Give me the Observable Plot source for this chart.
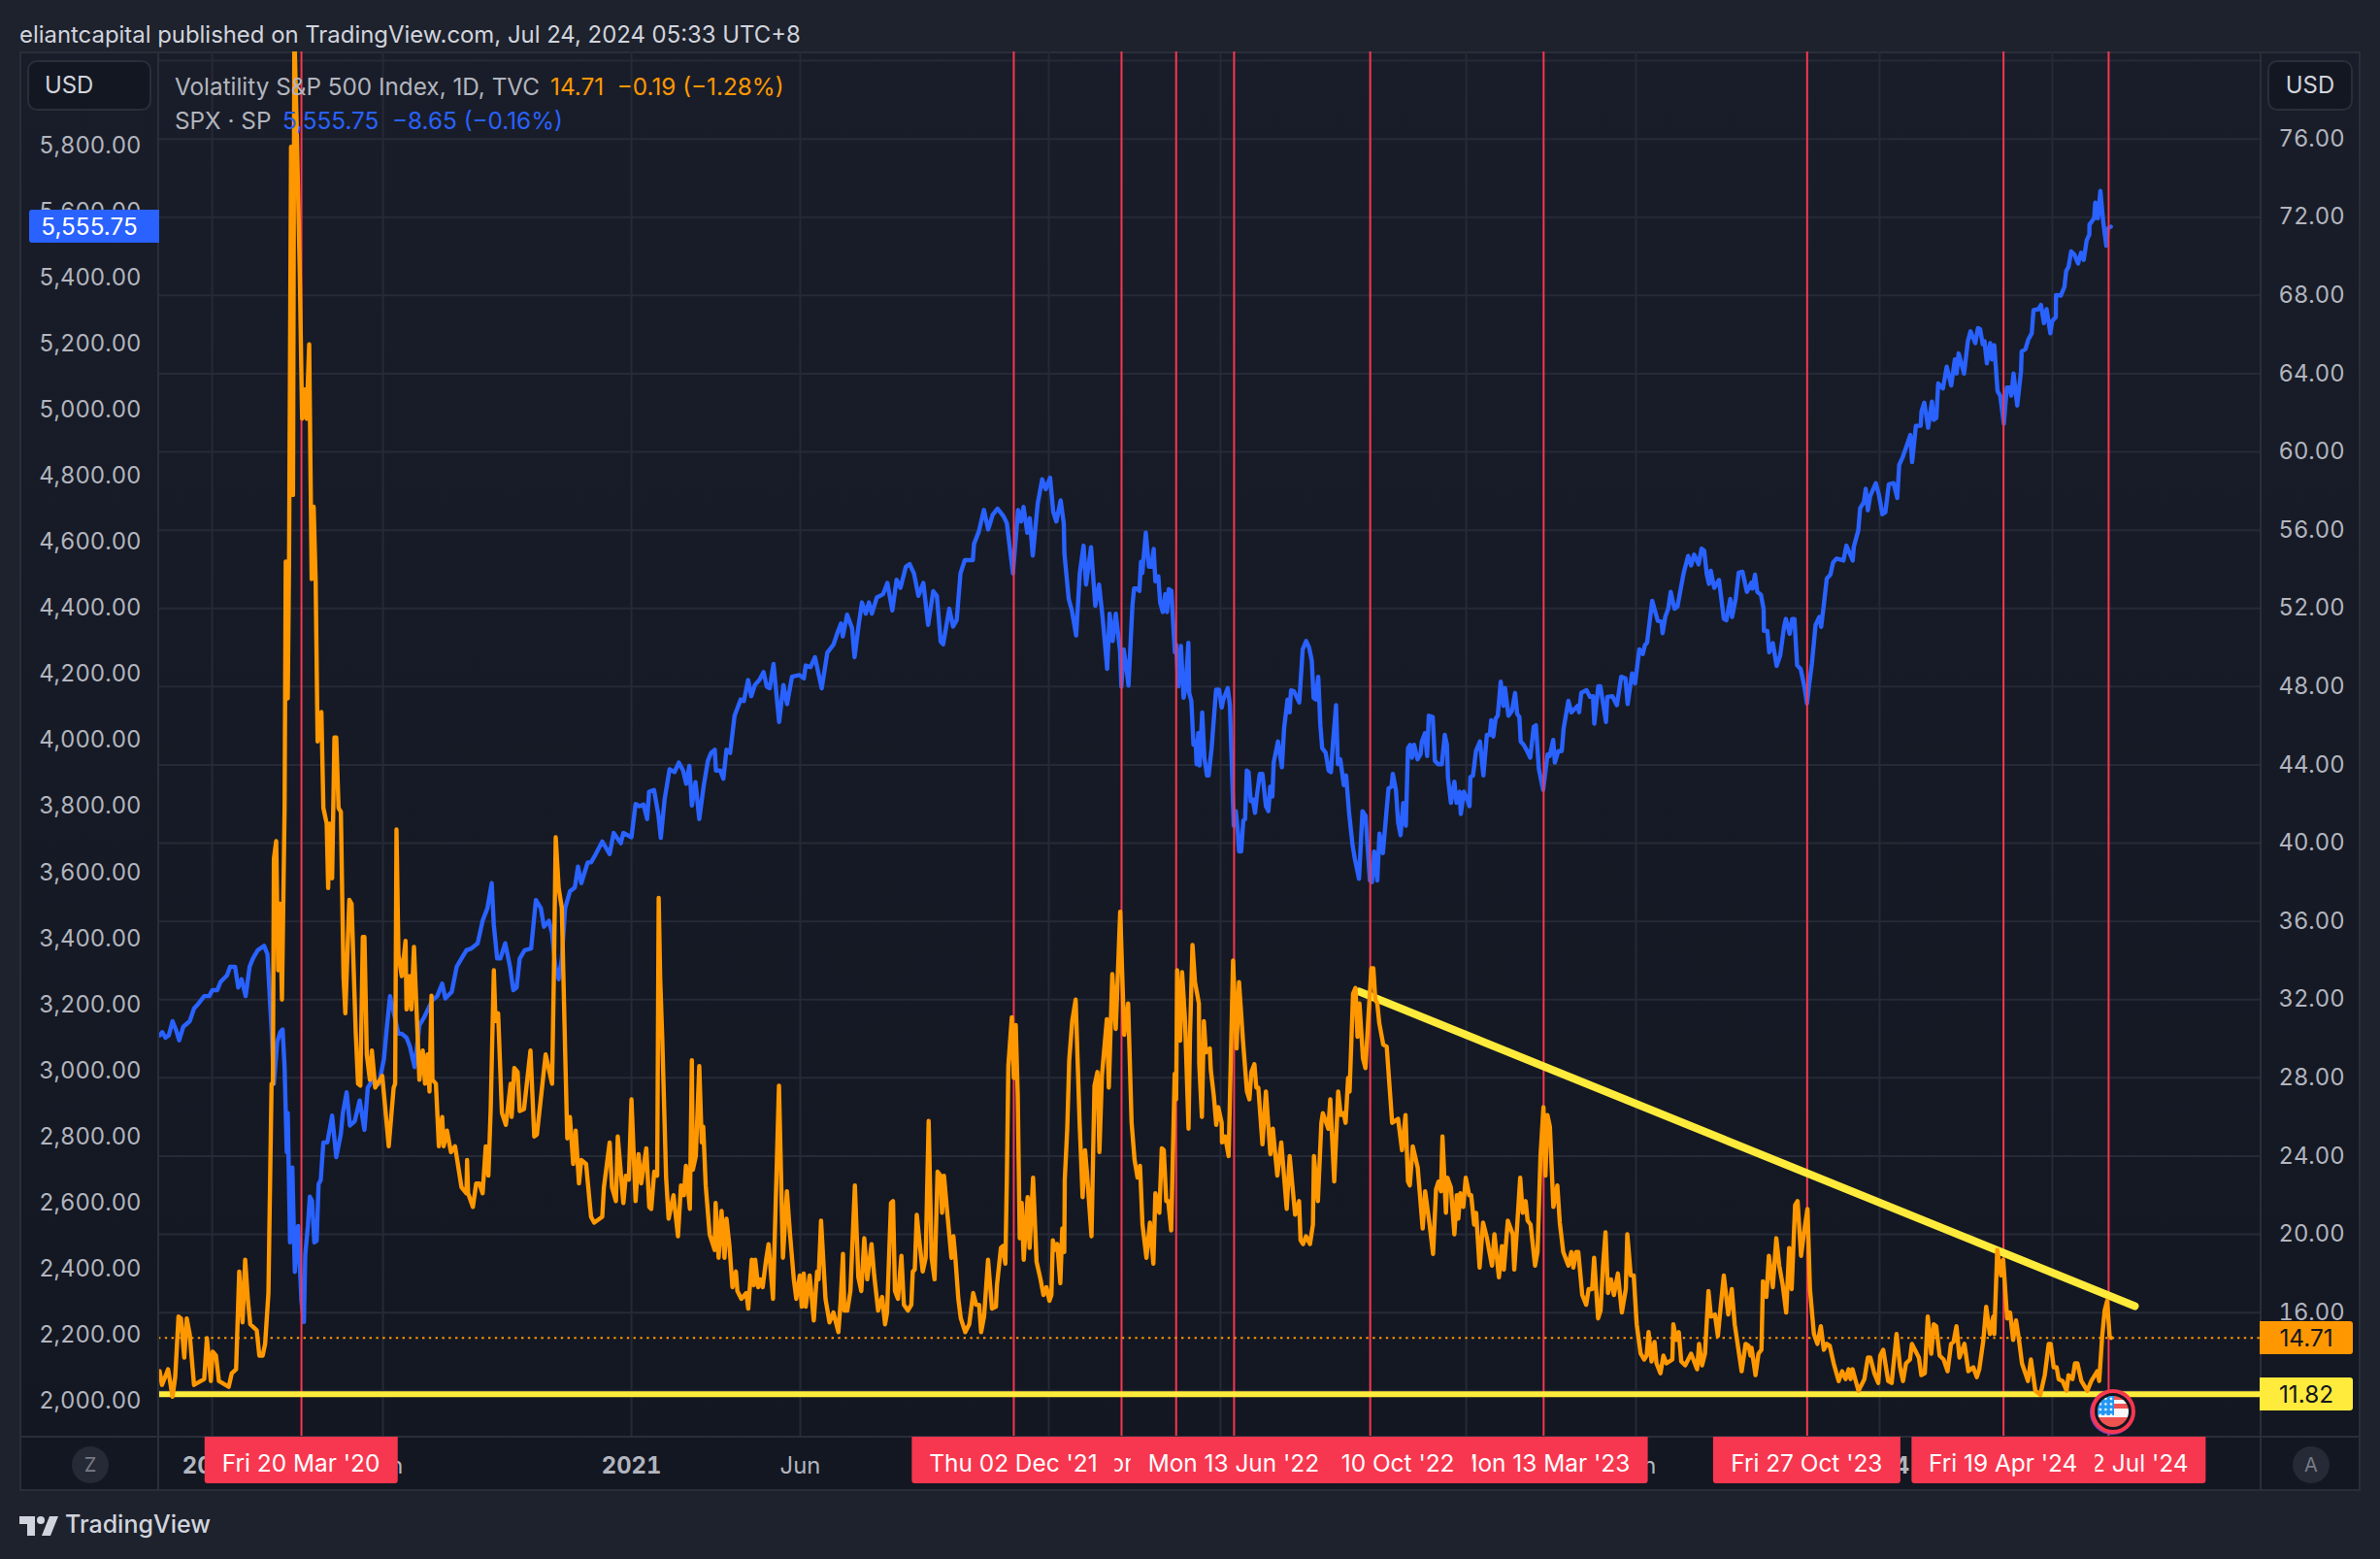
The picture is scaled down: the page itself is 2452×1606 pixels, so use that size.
<!DOCTYPE html>
<html>
<head>
<meta charset="utf-8">
<script src="https://cdn.jsdelivr.net/npm/d3@7"></script>
<script src="https://cdn.jsdelivr.net/npm/@observablehq/plot@0.6"></script>
<style>
html,body{margin:0;padding:0;background:#1e222d;width:2452px;height:1606px;overflow:hidden;font-family:Inter,"Liberation Sans",sans-serif;}
#stage{position:absolute;left:0;top:0;width:2452px;height:1606px;}
#stage svg{position:absolute;left:0;top:0;}
.o{position:absolute;white-space:nowrap;line-height:1;}
</style>
</head>
<body>
<div id="stage"></div>
<script>
// x is the trading-session count from the left edge of the chart.
const vix2020a=[[0.6,13],[2,12.3],[5.7,13.1],[8.4,11.7],[10,12.7],[12,15.8],[13.5,15.7],[15.5,13.7],[17,15.7],[18.8,14.9],[21.4,12.3],[27.6,12.6],[29.2,14.7],[31.6,12.5],[32.7,14],[34.7,13.8],[36.5,12.5],[42.4,12.2],[44.3,12.9],[46.9,13.1],[48.8,18.1],[50.8,15.5],[52.4,18.7],[54.1,16.6],[55.5,15.4],[59.4,15.1],[61,13.8],[63,13.8],[64.5,14.4],[66.5,17],[68.4,27.7],[69.2,27.7],[69.8,39.2],[71.2,40.1],[72.4,33.5],[73.5,36.9],[74.7,32],[76.3,41.8],[77,54.4],[78.2,47.4],[79,54.4],[80.2,75.6],[81.4,57.8],[82.2,81.5],[83.7,76.4],[85.5,69.1],[86.9,61.7],[88.4,63.2],[89.6,61.7],[91.2,65.5],[92.7,53.5],[93.9,57.2],[95.1,53.5],[96.3,45.2],[98.6,46.7],[99.8,41.8],[101.8,41],[102.7,37.7],[103.7,41],[105.1,38.2],[106.5,45.4],[107.6,45.4],[109,41.8],[110.4,41.6],[112,33.2],[113.1,31.3],[115.5,37.1],[116.9,36.9],[119.4,30.3],[120.8,27.7],[122.2,27.6],[123.7,35.2],[124.7,35.2],[126.1,29.2],[128,27.9],[129.2,29.4],[131.2,27.5],[135.5,28.1],[139.4,24.5],[142.4,27.5],[143.3,27.7],[144.1,40.7],[145.3,34.3],[147.3,33.2],[149.6,35],[150.2,31.5],[152.2,33.2],[153.1,31.5],[154.7,34.7],[158,27.9],[160,29.4],[161.4,27.7],[162.9,29.2],[164.1,27.3],[165.3,32.2],[165.9,27.9],[168,27.7],[169.8,24.5],[171.8,26],[172.7,24.5],[174.7,25.3],[177.1,24.2],[179.6,24.5],[183.5,22.4],[186.5,22.1],[186.9,23.8],[187.5,22.1],[190.4,21.4],[192.4,22.6],[194.3,22.6],[196.3,22.1],[198.2,24.5],[199.8,23],[201.2,26.4],[203.1,33.5],[204.1,30.9],[205.7,31.3],[208,26.2],[210.4,25.6],[213.3,27.7],[213.9,26],[215.5,28.5],[217.5,28.3],[218.8,26.3],[221.4,26.4],[225.3,29.4],[227.6,25],[229.2,25.1],[234.5,29.2],[238.4,27.7],[239.4,32.8],[240.6,40.3],[242.4,37.7],[244.3,36.7],[246.3,29.4],[247.6,24.9],[249.2,26],[251.2,23.6],[252.7,25.3],[254.7,22.6],[256.1,23.8],[259,23.6],[262,20.9],[263.9,20.6],[268.8,20.9],[269.8,22.4],[273.3,24.7],[274.7,22.4],[277.1,21.7],[278.2,25],[281.6,21.6],[283.1,23],[284.9,22.8],[286.5,26.9],[289,21.7],[290.8,24.1],[292.4,22.6]];
const vix2021=[[295.5,24.4],[297.3,21.4],[298.5,21.3],[300.3,23.2],[302.1,23],[303,37.2],[303.9,33.1],[305.1,30.2],[307.5,22.9],[309,20.8],[312,22],[314.7,19.9],[316.5,22.5],[318.3,22],[319.5,23.5],[321.9,21.3],[323.1,28.9],[323.7,23.3],[325.5,24],[327.6,28.6],[329.1,24.7],[330,25.5],[331.5,22.5],[333.9,20],[336.9,19.2],[337.5,21.6],[339.3,18.8],[341.1,21.2],[342.9,18.8],[344.1,20.8],[345.9,19.4],[347.7,17.3],[349.8,18.1],[350.7,17.1],[353.1,16.7],[356.1,17],[357.3,16.2],[359.4,18.7],[360.6,17.4],[361.5,18.7],[363.3,17.3],[364.5,17.7],[366,17.3],[368.1,18.7],[369.6,19.5],[372.3,16.7],[375.9,27.6],[378.3,18.8],[380.7,22.2],[382.5,20.1],[384.9,17.7],[386.4,16.7],[388.5,17.9],[389.7,16.3],[390.9,18],[392.1,16.3],[394.5,17.9],[397,15.6],[399,18.1],[399.9,17.7],[401.4,20.7],[404.1,16.7],[406.5,15.5],[408.9,16],[411.9,15],[413.2,16.5],[414.7,19],[415.5,16.1],[417.3,16.1],[419.2,17.1],[421.9,22.5],[424,17.8],[425.8,17.1],[427.6,19.8],[429.4,17.7],[432,19.5],[433.6,17.9],[436,16.1],[438.4,16.8],[440.2,15.4],[441.4,16],[443.8,21.6],[445,21.7],[446.2,17.1],[448,16.7],[450.1,18.9],[451.6,16.4],[454,16.1],[456.1,16.4],[457,18.1],[458.2,18.2],[459.4,21],[461.2,19.5],[463,18.1],[464.8,18.8],[466.6,25.8],[468.4,18.8],[470.2,17.7],[472,23.2],[473.8,23],[474.7,21.1],[475.9,23],[478,21],[480.4,18.8],[481.6,19.9],[482.8,18.8],[484.6,16.7],[486.1,15.7],[488.8,15],[491.2,15.4],[493.6,17],[495.4,16.4],[497.2,16.4],[498.4,15],[500.2,15.8],[502.6,18.7],[505,16.2],[507.4,16.3],[508,17.4],[510.4,19.3],[511.6,19.4],[513.1,18.5],[514,22.9],[514.9,28.6],[517,31.1],[518.2,28],[519.4,30.7],[520.6,27.1],[521.8,19.8],[523,21.6],[524.2,18.7],[526.6,21.9],[527.8,19.3],[529.9,22.9],[532,18.6],[534.4,17.7],[536.2,16.9],[538,17.3]];
const vix2022=[[539.8,16.6],[541,16.9],[541.9,19.7],[543.1,19.2],[544.6,19.5],[546.4,17.5],[547.6,20.3],[548.8,19.1],[549.1,22.8],[550.6,25.4],[551.8,28.9],[553.6,30.9],[555.7,32],[558.1,25.7],[559.9,21.9],[561.4,24.3],[562.6,23.1],[565.3,19.9],[567.1,27.6],[568.9,28.3],[570.1,24.2],[571.6,28.1],[574.6,31],[575.8,27.5],[577.9,33.3],[580,30.5],[582.7,36.5],[585.1,30.2],[587.5,31.8],[589.6,25.7],[591.4,23.8],[593.2,22.9],[594.7,23.5],[596.2,20.5],[598.6,18.8],[600.7,20.6],[602.8,18.5],[604,22.1],[606.4,21.1],[607.9,24.4],[609.1,24.3],[610.6,21.7],[611.8,21.7],[613.6,20.2],[615.7,28.2],[616.6,26.9],[617.2,33.5],[619,29.9],[620.2,33.4],[622,30.9],[624.1,25.4],[625,30.2],[626.5,34.8],[628,32.9],[630.4,31.8],[630.6,28.7],[632.2,26],[633.4,30.9],[634.6,29.3],[637,29.5],[637.6,28.4],[639.4,27.1],[640.9,25.6],[642.1,26.5],[644.2,25.7],[644.4,24.7],[646.3,25],[648.4,24],[651.1,34],[653.2,29.5],[654.7,32.9],[657.1,29.9],[659.5,27.3],[661,26.9],[662.2,28.3],[664,28.7],[665.2,27.5],[666.4,27.5],[668.9,24.6],[671,27.3],[673.7,24.1],[675.2,25.4],[677.9,23],[680.3,24.7],[683.6,21.3],[685.4,24],[688.7,21],[691.1,21.7],[692,19.7],[693.5,19.5],[695.3,19.9],[697.7,19.5],[699.5,20.5],[700.1,24],[702.5,21.7],[704.6,25.7],[705.5,26.2],[708.8,25.4],[710,26.9],[712.4,22.7],[714.8,27.3],[716.3,26.1],[718.1,26.2],[719.3,25.7],[720.8,28],[721.7,27.3],[723.8,32.3],[725.3,32.6],[726.5,30.1],[727.7,31.8],[729.8,29],[731.3,28.5],[733.1,31.1],[734.9,33.6],[736.1,33.6],[737.3,32],[738.5,31.8],[739.7,30.8],[742.1,29.7],[744.2,29.6],[747.5,25.7],[751.1,25.9],[753.5,24.3],[755.6,26.1],[757.1,22.7],[758.2,22.5],[760,24.5],[763,23.4],[766,20.3],[767.5,22.2],[770.2,20.5],[772.3,19],[774.1,22.3],[775.6,22.7],[777.1,22.2],[778,25],[780.1,21.1],[781,22.9],[783.1,22.4],[785.2,20],[786.7,22],[787.6,20.8],[788.8,22.1],[790.6,21.4]];
const vix2023=[[792.1,22.9],[794.2,22],[795.4,22],[797.2,20.5],[798.4,21.1],[800.5,18.3],[802.6,20.6],[805,19.8],[806.2,19.2],[808,18.4],[809.5,20],[812.2,17.8],[814,19.4],[815.2,18.2],[817.6,20.7],[820.6,20],[821.5,18.2],[823,20.1],[825.1,22.9],[826.6,21.1],[828.4,21.7],[829.6,20.7],[831.4,20.5],[834.1,18.4],[835.6,19.1],[837.4,24],[839.2,26.5],[840.4,23],[841.6,26.1],[843.1,25.5],[845.2,21.4],[847.6,22.5],[849.1,20.6],[851.2,19.1],[854.3,18.4],[856.1,19.1],[857.3,18.3],[859,19.1],[860.3,19.1],[862.7,16.9],[865.1,16.4],[866.6,17.2],[868.7,17.2],[869.9,18.8],[872.3,15.7],[873.8,16.1],[875.3,18.4],[876.8,20.1],[878.3,17],[880.1,17.7],[881.9,16.9],[884.3,18],[886.7,16],[889.1,17.2],[890,20],[892.1,17.9],[893.9,17.9],[895.7,15.4],[898.1,13.9],[900.2,13.6],[901.7,13.8],[902.9,15],[904.7,13.5],[906.5,14.5],[907.7,13.4],[910.1,12.9],[911.9,13.8],[913.7,13.4],[917.3,13.6],[917.9,15.4],[919.7,14.6],[921.2,15],[922.7,13.5],[925.1,13.3],[926.3,13.5],[928.7,13.9],[932.3,13.1],[933.5,14.4],[935.3,13.3],[937.1,13.9],[939.2,17.1],[940.7,15.8],[943.1,15.9],[944.9,14.8],[946.7,16.4],[948.5,17.9],[951.2,15.9],[953.3,17.2],[955.1,15.4],[959.3,13],[961.7,14.4],[963.5,14.3],[964.7,13.8],[965.3,14.2],[967.7,12.8],[969.5,13.9],[971.3,14.1],[972.2,17.6],[974.3,16.8],[975.8,18.9],[978.2,17.3],[980.3,19.8],[982.1,18.4],[984.2,17.4],[986.3,16],[988.1,19.3],[989.6,17.2],[991.7,21.5],[993.2,21.7],[995.3,18.9],[997.1,20.1],[999.2,21.3],[1000.7,17.2],[1003.1,14.9],[1005.2,14.4],[1007.3,15.3],[1009.1,14.1],[1010.9,14.4],[1012.7,14.3],[1015.1,13.4],[1018.1,12.5],[1020.2,13],[1022.3,12.6],[1024.1,13.1],[1025.3,12.6],[1026.5,13.1],[1030.1,12],[1033.7,12.6],[1035.8,13.7],[1037.3,13.7],[1039.7,12.9]];
const vix2024=[[1042.1,12.4],[1043.3,13.8],[1045.1,14.1],[1048.1,12.5],[1050.2,12.4],[1053.2,14.9],[1055.3,13.2],[1057.1,12.5],[1058.9,13.4],[1061.3,13.6],[1062.5,14.4],[1066.7,13.7],[1068.2,12.8],[1070.3,12.9],[1072.1,15.8],[1074.2,13.9],[1075.7,15.4],[1077.2,15.3],[1079.3,13.8],[1081.7,13.6],[1084.1,13],[1086.2,14.4],[1087.7,14.5],[1089.5,15.3],[1091.3,13.7],[1094.3,14.4],[1096.7,13],[1099.7,13.2],[1101.8,12.7],[1103.3,13.1],[1105.8,14.6],[1107.5,16.3],[1109.7,14.9],[1111.8,15.8],[1112.4,14.9],[1114.2,19.2],[1116.5,17.9],[1117.8,18.7],[1120.2,15.7],[1122,16],[1123.8,14.6],[1125.6,15.6],[1127.4,14.6],[1129.2,13.4],[1132.8,12.5],[1134.6,13.6],[1137.3,12],[1140.3,11.8],[1143,12.8],[1145.4,14.4],[1146.6,14.4],[1148.4,13.2],[1150.2,13.2],[1151.4,12.6],[1153.8,12.5],[1156.2,12],[1157.4,12.8],[1159.8,12.6],[1161.3,13.4],[1162.8,13.4],[1165.2,12.5],[1168.8,12],[1171.2,12.5],[1174.8,13],[1176,12.5],[1177.8,14.8],[1179.3,16.1],[1180.8,16.6],[1182.3,14.8],[1183.2,14.71]];

const spx2020=[[0.6,3107],[2.2,3117],[4.1,3100],[6.1,3107],[8.4,3150],[10.4,3125],[12.4,3092],[14.9,3133],[18.8,3150],[21.4,3188],[23.7,3201],[27.6,3226],[30.6,3226],[32.5,3244],[35.5,3244],[37.5,3269],[41.4,3289],[43.3,3315],[46.3,3315],[48.2,3252],[50.2,3277],[52.7,3226],[55.1,3315],[57.1,3340],[60,3365],[63.9,3378],[65.9,3353],[68.4,3125],[69.8,2960],[71.8,3087],[73.7,3117],[75.1,3125],[76.3,3011],[77.6,2753],[78.2,2872],[79.6,2480],[81,2707],[82.5,2391],[84.5,2530],[86.5,2302],[88,2239],[88.8,2442],[90.4,2530],[91.6,2619],[92.9,2606],[94.3,2480],[95.7,2485],[96.9,2657],[98.2,2669],[99.8,2783],[102.2,2783],[105.1,2864],[107.6,2738],[110.4,2809],[111.6,2872],[113.9,2935],[115.9,2834],[118.8,2847],[121.8,2910],[124.7,2821],[126.7,2948],[129.6,2973],[133.5,2960],[136.5,3036],[138.4,3138],[140.2,3226],[145.3,3112],[147.3,3112],[150.2,3100],[152.2,3074],[155.1,3011],[158,3138],[161,3163],[165.9,3214],[168.8,3226],[171.8,3264],[173.7,3219],[177.6,3239],[180.6,3315],[183.5,3340],[186.5,3365],[189.4,3370],[193.3,3386],[196.3,3454],[199.2,3492],[201.8,3568],[203.1,3441],[205.1,3340],[207.1,3340],[210,3386],[212.9,3315],[214.9,3244],[216.9,3252],[218.8,3340],[221.8,3365],[225.7,3370],[228.6,3517],[231.6,3492],[233.5,3436],[236.5,3454],[238.4,3416],[240.4,3315],[242.4,3277],[244.3,3340],[246.3,3492],[249.2,3543],[252.2,3555],[254.1,3618],[256.1,3568],[260,3631],[262,3631],[264.9,3656],[268.8,3694],[273.3,3656],[275.7,3720],[280,3689],[281.6,3720],[286.5,3707],[289,3808],[291.4,3801]];
const spx2021=[[293.8,3806],[296,3762],[297.2,3845],[300.2,3850],[302.8,3776],[304.3,3705],[306.6,3822],[309.6,3913],[312.6,3904],[315.2,3933],[317.8,3909],[319.7,3869],[321.6,3923],[323.1,3803],[325.3,3874],[327.6,3762],[330.2,3860],[332.8,3938],[334.7,3962],[337,3972],[337.7,3909],[340.3,3909],[342.2,3884],[344.1,3972],[346.3,3962],[349,4075],[352.7,4124],[354.6,4119],[357.2,4183],[359.1,4134],[361.3,4168],[364,4183],[366.6,4207],[368.5,4163],[370.3,4158],[372.6,4232],[376,4056],[378.6,4168],[380.8,4110],[383.8,4193],[388.3,4198],[391,4188],[392.1,4227],[395,4222],[397.7,4252],[401.8,4158],[405.2,4266],[409,4291],[411.6,4330],[413.5,4354],[414.6,4315],[417.2,4381],[420.2,4340],[421.7,4252],[424.3,4354],[426.2,4418],[428.5,4384],[430.4,4418],[432.2,4384],[435.2,4433],[439,4443],[441.6,4477],[444.6,4394],[447.2,4487],[449.5,4462],[452.8,4526],[455.1,4534],[457.7,4506],[460.4,4438],[463.4,4477],[466.3,4350],[469.4,4452],[471.6,4438],[473.9,4299],[475.4,4291],[479.1,4399],[481.4,4345],[483.6,4364],[485.9,4506],[488.5,4546],[493.4,4546],[494.1,4595],[497.1,4634],[500.1,4698],[502.7,4639],[505.4,4683],[508.4,4702],[512.1,4678],[514,4658],[517.7,4506],[520.8,4698],[522.6,4663],[524.1,4707],[526.4,4629],[527.9,4673],[529.7,4560],[532.7,4717],[535.4,4791],[537.6,4761]];
const spx2022=[[540.2,4796],[542.1,4693],[544,4663],[546.6,4727],[548.5,4658],[548.9,4565],[551.5,4428],[553.4,4394],[556,4318],[558.2,4506],[560.5,4590],[562,4472],[565,4585],[567.6,4408],[569.9,4472],[572.1,4369],[574.8,4217],[576.3,4384],[578.1,4301],[580,4384],[582.6,4271],[583.4,4163],[584.8,4276],[586.4,4222],[587.7,4166],[590.1,4409],[591.1,4460],[592.7,4460],[594.3,4453],[595.3,4541],[596.1,4507],[598.2,4629],[600.1,4526],[601.6,4526],[603,4580],[604,4482],[605.8,4497],[606.9,4418],[608.5,4389],[610,4443],[611.1,4389],[612.1,4458],[613.7,4453],[615.8,4267],[616.6,4291],[617.9,4164],[619.5,4286],[621.1,4129],[622.4,4164],[624,4296],[624.5,4144],[625.8,4120],[627.1,3987],[628.4,3997],[629,3928],[630,4022],[630.8,3924],[632.4,4085],[633.7,3948],[635.3,3894],[636.3,3894],[638.1,3977],[640.8,4154],[642.6,4154],[644.2,4100],[645.2,4124],[647.9,4159],[649.2,4105],[651.5,3742],[652.8,3786],[653.9,3728],[654.7,3664],[656,3664],[657.3,3757],[658.4,3762],[659.4,3909],[660.5,3904],[661.8,3816],[663.1,3821],[664.4,3781],[665.7,3840],[667.3,3899],[668.9,3899],[671,3801],[672.5,3786],[673.6,3860],[674.9,3830],[675.7,3933],[678.3,3997],[680.7,3919],[682,4036],[684.1,4124],[685.4,4085],[686.2,4152],[688,4149],[691.2,4115],[693.3,4276],[695.4,4301],[697.2,4281],[698.8,4242],[699.9,4129],[701.2,4124],[702.7,4193],[704,4046],[705.1,3977],[707.2,3963],[709,3909],[710.4,3904],[711.7,3997],[713.5,4107],[714.6,3928],[716.1,3943],[718.2,3865],[719.6,3894],[721.4,3781],[723.5,3683],[724.8,3644],[727.4,3581],[729.5,3786],[731.4,3772],[734,3576],[735.3,3571],[736.6,3664],[738.5,3576],[739.8,3718],[741.9,3659],[744,3781],[745.3,3855],[747.1,3860],[747.9,3899],[749.8,3850],[751.1,3752],[752.6,3713],[754.2,3811],[755.8,3742],[757.1,3977],[758.4,3987],[759.5,3948],[760.8,3987],[762.9,3943],[764.7,3958],[765.5,3997],[767.4,4022],[768.7,3953],[769.7,4075],[772.1,4071],[773.4,3938],[775.5,3928],[777.6,3928],[779.4,4017],[780.7,3987],[781.3,3889],[783.1,3811],[785.2,3875],[786.5,3811],[788.4,3845],[789.1,3777],[791,3845]];
const spx2023=[[792.6,3826],[794.4,3801],[794.9,3889],[796.5,3894],[798.3,3968],[800.7,3997],[802.8,3894],[804.9,4017],[806.7,4017],[807.5,4061],[808.8,4012],[810.2,4066],[811.5,4075],[813.3,4178],[814.9,4105],[815.9,4159],[818,4075],[820.1,4090],[822,4144],[823.3,4080],[824.6,4071],[825.4,3997],[827.2,3987],[829.3,3968],[831.2,3948],[833.3,4041],[834.6,4046],[836.4,3914],[839,3850],[841.7,3958],[843,3953],[845.1,4002],[846.1,3933],[848.2,3968],[850.3,3968],[851.4,4036],[854.3,4120],[856.1,4085],[860,4105],[860.8,4085],[862.1,4144],[865.3,4152],[867.4,4132],[869.2,4134],[870,4051],[872.4,4164],[873.7,4164],[877.1,4056],[877.9,4132],[881,4134],[883.7,4107],[886.3,4193],[888.9,4188],[890.2,4110],[892.9,4203],[894.7,4173],[897.3,4276],[899.4,4262],[900.7,4289],[902,4296],[905.1,4423],[908.5,4362],[910.7,4360],[911.4,4325],[913,4374],[914.8,4399],[916.3,4450],[918.6,4399],[920.4,4405],[922.4,4460],[924.2,4508],[926.9,4559],[928.7,4530],[930.5,4563],[933.2,4533],[935,4581],[936.6,4575],[938.2,4502],[939.5,4474],[940.6,4514],[942.7,4462],[945.6,4486],[948.5,4368],[950.1,4364],[952.4,4429],[953.5,4374],[955.7,4429],[957.5,4508],[959.8,4511],[962.5,4450],[965.2,4478],[965.9,4460],[967.4,4502],[968.8,4450],[971,4441],[972.6,4399],[972.8,4332],[974.9,4332],[976,4267],[978.2,4295],[980.5,4226],[982.7,4258],[985,4344],[986.1,4368],[988.4,4323],[989.9,4368],[991.3,4368],[992.9,4228],[995.1,4216],[997.4,4161],[998.9,4112],[1000.3,4173],[1001.9,4234],[1004.1,4350],[1006.4,4374],[1007.5,4344],[1009.1,4411],[1010.9,4490],[1013.1,4502],[1014.7,4539],[1016.9,4551],[1021,4545],[1022.8,4590],[1024.6,4569],[1026.6,4545],[1027.3,4587],[1030,4636],[1031.1,4703],[1033.4,4722],[1034.5,4762],[1035.8,4697],[1037.2,4740],[1040.6,4779]];
const spx2024=[[1042.4,4746],[1044.6,4685],[1046.4,4691],[1048.5,4776],[1051.4,4779],[1053.6,4734],[1054.8,4835],[1057,4859],[1059.3,4892],[1061.5,4925],[1062.6,4843],[1064.9,4953],[1067.8,4953],[1068.3,4996],[1070,5023],[1072.3,4947],[1074.6,5026],[1075.7,4971],[1077.3,4977],[1078.4,5081],[1081.3,5066],[1083.6,5132],[1086.3,5075],[1088.5,5154],[1089.6,5111],[1090.8,5172],[1094.1,5111],[1096.4,5209],[1098,5239],[1100.9,5203],[1102.5,5249],[1103.8,5246],[1105.4,5200],[1106.5,5209],[1107.9,5142],[1109.9,5203],[1111,5154],[1112.4,5197],[1114.4,5057],[1116,5044],[1118.2,4959],[1120,5069],[1121.8,5069],[1122.7,5044],[1124.1,5111],[1126.3,5014],[1128.6,5118],[1129,5178],[1131.3,5185],[1133.1,5215],[1135.1,5233],[1136.2,5303],[1139.2,5306],[1140.7,5319],[1142.5,5264],[1144.1,5306],[1146.4,5233],[1147.5,5270],[1149.7,5282],[1149.8,5349],[1152.7,5347],[1154.9,5373],[1156,5422],[1157.4,5434],[1159,5481],[1161,5471],[1163.2,5444],[1165,5477],[1166.6,5455],[1168.4,5514],[1170,5532],[1170.1,5562],[1172.9,5581],[1173.6,5629],[1175.2,5581],[1176.7,5664],[1178.5,5568],[1180.3,5498],[1181.2,5550],[1183,5555.75]];

const spxTicks=[2000,2200,2400,2600,2800,3000,3200,3400,3600,3800,4000,4200,4400,4600,4800,5000,5200,5400,5600,5800];
const vixTicks=[12,16,20,24,28,32,36,40,44,48,52,56,60,64,68,72,76];
const vixGrid=[...vixTicks,80];
const yearSessions=[32.4,286.5,539.4,792.4,1042.9];
const yearLabels=["2020","2021","2022","2023","2024"];
const juneSessions=[135.9,388.8,643.5,895.3,1147.6];
const eventSessions=[86.5,518.2,583.5,616.6,651.7,734.2,839.3,999,1118,1181.7];
// DOM order = paint order of the overlapping date tags
const eventTags=[[86.5,"Fri 20 Mar '20"],[839.3,"Mon 13 Mar '23"],[734.2,"Mon 10 Oct '22"],[583.5,"Mon 07 Mar '22"],[616.6,"Mon 25 Apr '22"],[518.2,"Thu 02 Dec '21"],[651.7,"Mon 13 Jun '22"],[999,"Fri 27 Oct '23"],[1181.7,"Tue 02 Jul '24"],[1118,"Fri 19 Apr '24"]];
const supportLevel=11.82, lastVix=14.71, lastSpx=5555.75;
const trendLine=[[727.6,32.41],[1197.6,16.33]];
const flagEvent=[1184.5,10.9];

const toVix=d3.scaleLinear().domain([2000,5800]).range([11.48,75.64]);
const vixRows=[...vix2020a,...vix2021,...vix2022,...vix2023,...vix2024].map(([session,vix])=>({session,vix}));
const spxRows=[...spx2020,...spx2021,...spx2022,...spx2023,...spx2024].map(([session,spx])=>({session,spx}));

const GRID="#262a36", RED="#f7374f", ORANGE="#ff9800", BLUE="#2962ff", YELLOW="#ffeb3b", TXT="#b2b5be";
const stage=document.getElementById("stage");
function box(css,text,parent){const d=document.createElement("div");d.className="o";d.style.cssText=css;if(text!=null)d.textContent=text;(parent||stage).appendChild(d);return d;}

// page chrome underneath the chart
box("left:20px;top:53px;width:2412px;height:1483px;box-sizing:border-box;border:2px solid #2a2e39;background:linear-gradient(#191d29,#131722);");

const plot=Plot.plot({
  width:2452,height:1606,marginLeft:163,marginRight:123,marginTop:53,marginBottom:126,
  style:{background:"none",color:TXT,fontFamily:"Inter, sans-serif",fontSize:"23.8px"},
  x:{domain:[0,1274.1],axis:null},
  y:{domain:[9.63,80.45],axis:null},
  marks:[
    Plot.ruleX([...yearSessions,...juneSessions],{x:d=>d,stroke:GRID,strokeWidth:2}),
    Plot.ruleY(vixGrid,{y:d=>d,stroke:GRID,strokeWidth:2}),
    Plot.axisX({ticks:juneSessions,anchor:"bottom",label:null,tickSize:0,tickPadding:21,tickFormat:()=>"Jun",fill:TXT}),
    Plot.axisX({ticks:yearSessions,anchor:"bottom",label:null,tickSize:0,tickPadding:21,fontWeight:700,fill:TXT,tickFormat:d=>yearLabels[yearSessions.indexOf(d)]}),
    Plot.axisY({ticks:spxTicks.map(toVix),anchor:"left",label:null,tickSize:0,tickPadding:18,fill:TXT,tickFormat:d=>d3.format(",.2f")(Math.round(toVix.invert(d)))}),
    Plot.axisY({ticks:vixTicks,anchor:"right",label:null,tickSize:0,tickPadding:18,fill:TXT,tickFormat:d=>d3.format(".2f")(d)}),
    Plot.line(spxRows,{x:"session",y:d=>toVix(d.spx),stroke:BLUE,strokeWidth:4.4,clip:true}),
    Plot.ruleX(eventSessions,{x:d=>d,stroke:RED,strokeWidth:2}),
    Plot.ruleY([supportLevel],{y:d=>d,stroke:YELLOW,strokeWidth:6}),
    Plot.line(trendLine,{x:d=>d[0],y:d=>d[1],stroke:YELLOW,strokeWidth:8,strokeLinecap:"round",clip:true}),
    Plot.line(vixRows,{x:"session",y:"vix",stroke:ORANGE,strokeWidth:4.4,clip:true}),
    Plot.ruleY([lastVix],{y:d=>d,stroke:ORANGE,strokeWidth:2,strokeDasharray:"2.4,4.4"})
  ]
});
stage.appendChild(plot);
const X=v=>plot.scale("x").apply(v), Y=v=>plot.scale("y").apply(v);

// pane dividers
box("left:162px;top:53px;width:2px;height:1483px;background:#2a2e39;");
box("left:2328px;top:53px;width:2px;height:1483px;background:#2a2e39;");
box("left:20px;top:1479px;width:2412px;height:2px;background:#2a2e39;");

// title and legend
const F="font-size:24.3px;";
box("left:20px;top:24px;color:#d1d4dc;font-size:23.9px;","eliantcapital published on TradingView.com, Jul 24, 2024 05:33 UTC+8");
box("left:180px;top:77px;color:"+TXT+";"+F,"Volatility S&P 500 Index, 1D, TVC");
box("left:567px;top:77px;color:"+ORANGE+";"+F,"14.71  −0.19 (−1.28%)").style.whiteSpace="pre";
box("left:180px;top:112px;color:"+TXT+";"+F,"SPX · SP");
box("left:291px;top:112px;color:"+BLUE+";"+F,"5,555.75  −8.65 (−0.16%)").style.whiteSpace="pre";

// USD buttons
const usd="top:62px;height:52px;box-sizing:border-box;border:2px solid #2a2e39;border-radius:10px;background:#131722;color:#d1d4dc;font-size:23.9px;line-height:48px;";
box("left:28px;width:128px;padding-left:16px;"+usd,"USD");
box("left:2336px;width:88px;text-align:center;"+usd,"USD");

// last-value badges, placed through the y scale
const badge="box-sizing:border-box;height:34px;line-height:34px;font-size:24.3px;text-align:center;";
box("left:30px;width:134px;padding-right:10px;top:"+(Y(toVix(lastSpx))-17)+"px;background:"+BLUE+";color:#fff;border-radius:3px 0 0 3px;"+badge,"5,555.75");
box("left:2328px;width:96px;top:"+(Y(lastVix)-17)+"px;background:"+ORANGE+";color:#131722;border-radius:0 3px 3px 0;"+badge,"14.71");
box("left:2328px;width:96px;top:"+(Y(supportLevel)-17)+"px;background:"+YELLOW+";color:#131722;border-radius:0 3px 3px 0;"+badge,"11.82");

// date tags on the time axis, placed through the x scale
for(const [s,t] of eventTags){
  box("left:"+X(s)+"px;top:1480px;height:48px;line-height:55px;padding:0 18px;transform:translateX(-50%);background:"+RED+";color:#fff;font-size:24.4px;border-radius:0 0 3px 3px;overflow:hidden;",t);
}

// economic-event flag
const fx=X(flagEvent[0]), fy=Y(flagEvent[1]);
const ring=box("left:"+(fx-23)+"px;top:"+(fy-23)+"px;width:46px;height:46px;box-sizing:border-box;border:4px solid "+RED+";border-radius:50%;background:#131722;box-shadow:-1px 1px 0 #8a3fb5;");
const flag=box("left:3px;top:3px;width:32px;height:32px;border-radius:50%;overflow:hidden;background:linear-gradient(#ef5350 0 12%,#f7f7f7 12% 26%,#ef5350 26% 40%,#f7f7f7 40% 68%,#ef5350 68% 100%);",null,ring);
box("left:0;top:0;width:17px;height:20px;background:radial-gradient(circle,#fff 1.1px,#2196f3 1.6px) 0 0/5.6px 5.6px,#2196f3;",null,flag);

// corner buttons
const circ="top:1490px;width:38px;height:38px;border-radius:50%;background:#262a36;color:#787b86;font-size:20px;line-height:38px;text-align:center;";
box("left:74px;"+circ,"Z");
box("left:2362px;"+circ,"A");

// TradingView mark
const ns="http://www.w3.org/2000/svg";
const logoWrap=box("left:20px;top:1562px;width:40px;height:20px;");
logoWrap.innerHTML='<svg xmlns="'+ns+'" width="40" height="20" viewBox="0 0 40 20" style="position:static"><path fill="#d1d4dc" d="M0 0h16v20H8V8H0z"/><circle cx="22" cy="4" r="4" fill="#d1d4dc"/><path fill="#d1d4dc" d="M31 0h9l-8 20h-9z"/></svg>';
box("left:67px;top:1558px;color:#d1d4dc;font-size:25px;font-weight:500;","TradingView");
</script>
</body>
</html>
